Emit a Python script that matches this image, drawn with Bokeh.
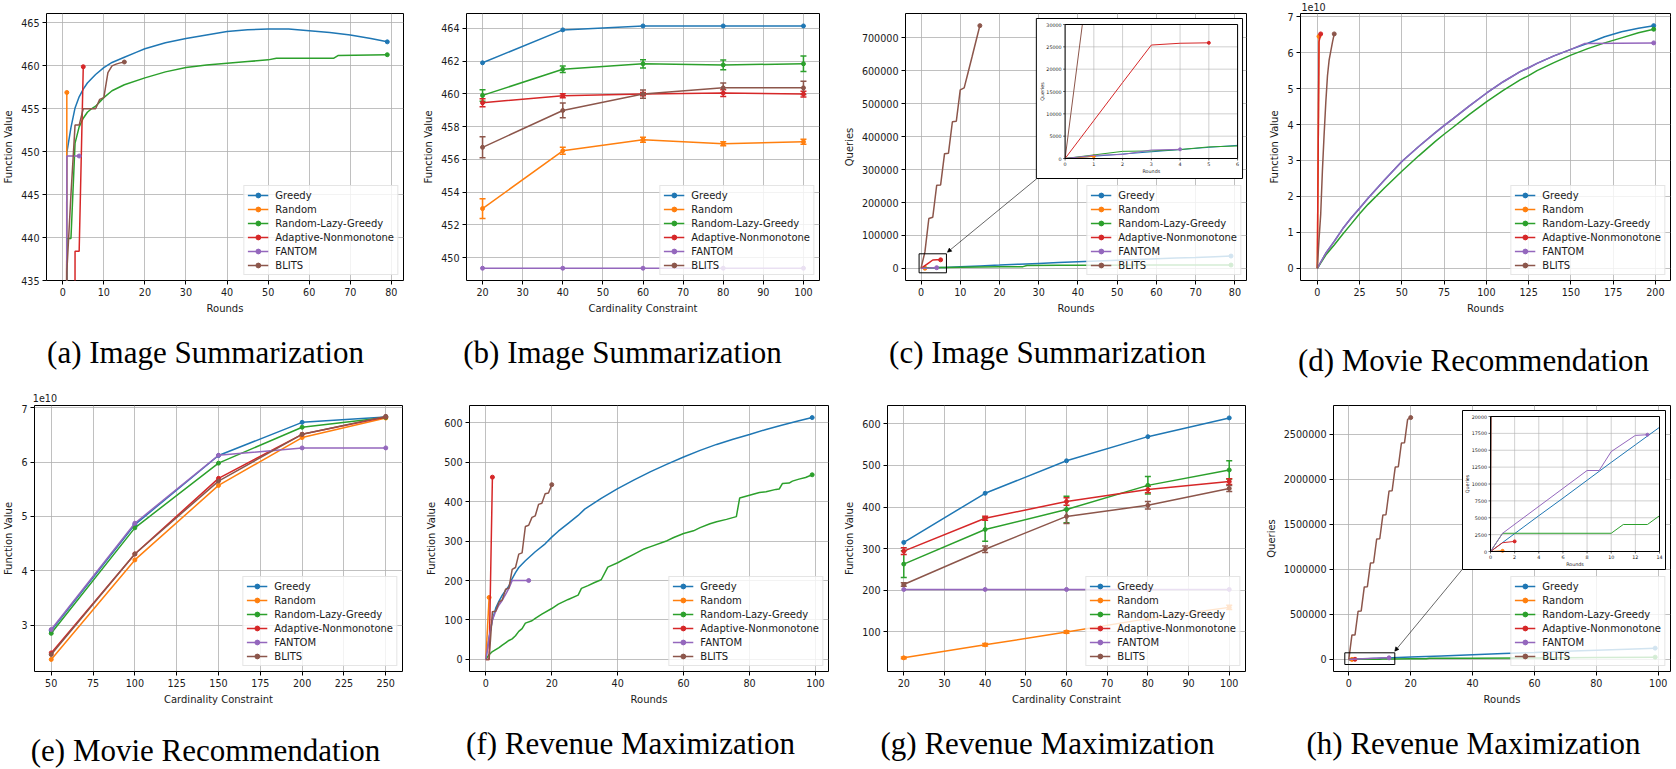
import math
from bokeh.plotting import figure
from bokeh.models import (Range1d, FixedTicker, Legend, LegendItem, Whisker,
                          TeeHead, ColumnDataSource, Arrow, NormalHead, BasicTickFormatter)
from bokeh.layouts import row, column
from bokeh.embed import file_html
from bokeh.resources import INLINE
from bokeh.core.properties import value

NAMES = ["Greedy", "Random", "Random-Lazy-Greedy", "Adaptive-Nonmonotone", "FANTOM", "BLITS"]
COLORS = ["#1f77b4", "#ff7f0e", "#2ca02c", "#d62728", "#9467bd", "#8c564b"]

# ---------------- (a) Image Summarization: value vs rounds ----------------
A_X_GREEDY = [0, 1, 2, 3, 4, 5, 6, 8, 10, 12, 15, 18, 20, 25, 30, 35, 40, 45, 50, 55, 60, 65, 70, 75, 79]
A_Y_GREEDY = [0, 449.9, 452.8, 455.1, 456.4, 457.3, 458.0, 459.0, 459.8, 460.4, 461.0, 461.6, 462.0, 462.7,
              463.2, 463.6, 464.0, 464.2, 464.3, 464.3, 464.1, 463.9, 463.6, 463.2, 462.8]
A_X_RANDOM = [0, 1]
A_Y_RANDOM = [0, 456.9]
A_X_RLG = [0, 1, 2, 3, 4, 5, 6, 7, 8, 10, 12, 15, 20, 25, 30, 35, 40, 45, 50, 52, 66, 67, 79]
A_Y_RLG = [0, 439.9, 439.9, 451.0, 452.9, 453.9, 454.6, 455.0, 455.3, 456.3, 457.1, 457.8, 458.6, 459.3,
           459.8, 460.1, 460.3, 460.5, 460.7, 460.9, 460.9, 461.2, 461.3]
A_X_ADAPT = [0, 1, 2, 3, 4, 5]
A_Y_ADAPT = [0, 0, 0, 438.4, 438.4, 459.9]
A_X_FANTOM = [0, 1, 2, 3, 4]
A_Y_FANTOM = [0, 449.5, 449.5, 449.5, 449.5]
A_X_BLITS = [0, 1, 2, 3, 4, 5, 6, 7, 8, 9, 10, 11, 12, 13, 14, 15]
A_Y_BLITS = [0, 436, 445, 453.1, 453.1, 455.0, 455.0, 455.0, 455.0, 456.1, 456.3, 459.2, 460.0, 460.2,
             460.35, 460.45]

# ---------------- (b) Image Summarization: value vs cardinality ----------------
B_X = [20, 40, 60, 80, 100]
B_GREEDY = [461.89, 463.9, 464.14, 464.14, 464.14]
B_RANDOM = [452.99, 456.52, 457.19, 456.95, 457.07]
B_RANDOM_ERR = [0.6, 0.22, 0.15, 0.12, 0.15]
B_RLG = [459.9, 461.5, 461.83, 461.76, 461.83]
B_RLG_ERR = [0.35, 0.2, 0.25, 0.3, 0.47]
B_ADAPT = [459.45, 459.88, 459.98, 460.04, 459.98]
B_ADAPT_ERR = [0.25, 0.12, 0.1, 0.2, 0.18]
B_FANTOM = [449.35, 449.35, 449.35, 449.35, 449.35]
B_BLITS = [456.73, 458.98, 459.98, 460.36, 460.36]
B_BLITS_ERR = [0.64, 0.45, 0.25, 0.3, 0.4]

# ---------------- (c) Image Summarization: queries vs rounds ----------------
C_X_GREEDY = [0, 1, 2, 3, 4, 5, 6, 10, 15, 20, 25, 30, 35, 40, 45, 50, 55, 60, 65, 70, 75, 79]
C_Y_GREEDY = [0, 500, 1000, 1500, 2000, 2500, 2950, 5000, 7500, 10000, 12600, 15000, 17500, 20000, 22300,
              24500, 26800, 29000, 31200, 33300, 35500, 37400]
C_X_RANDOM = [0, 1]
C_Y_RANDOM = [0, 500]
C_X_RLG = [0, 1, 2, 3, 4, 5, 6, 10, 15, 20, 26, 27, 35, 45, 60, 79]
C_Y_RLG = [0, 800, 1600, 1700, 2000, 2600, 2800, 3500, 4300, 4800, 5200, 8500, 9200, 9800, 10000, 10100]
C_X_ADAPT = [0, 1, 2, 3, 4, 5]
C_Y_ADAPT = [0, 8500, 17000, 25400, 25800, 25900]
C_X_FANTOM = [0, 1, 2, 3, 4]
C_Y_FANTOM = [0, 700, 900, 1900, 2050]
C_X_BLITS = [0, 1, 2, 3, 4, 5, 6, 7, 8, 9, 10, 11, 12, 13, 14, 15]
C_Y_BLITS = [0, 50000, 151500, 155500, 252500, 253500, 348500, 350000, 445500, 447000, 542400, 548500,
             595000, 642000, 690000, 737400]

# ---------------- (d) Movie Recommendation: value (1e10) vs rounds ----------------
D_X_GREEDY = [0, 5, 10, 15, 20, 25, 30, 40, 50, 60, 70, 75, 80, 90, 100, 110, 120, 125, 130, 140, 150, 160,
              170, 175, 180, 190, 199]
D_Y_GREEDY = [0, 0.42, 0.75, 1.1, 1.4, 1.67, 1.95, 2.47, 2.97, 3.39, 3.78, 3.97, 4.15, 4.52, 4.87, 5.19,
              5.47, 5.58, 5.7, 5.91, 6.09, 6.26, 6.44, 6.51, 6.58, 6.68, 6.75]
D_X_RANDOM = [0, 1]
D_Y_RANDOM = [0, 6.45]
D_X_RLG = [0, 5, 10, 15, 20, 25, 30, 40, 50, 60, 70, 75, 80, 90, 100, 110, 120, 125, 130, 140, 150, 160,
           170, 175, 180, 190, 199]
D_Y_RLG = [0, 0.37, 0.65, 0.95, 1.23, 1.52, 1.78, 2.25, 2.7, 3.13, 3.54, 3.73, 3.91, 4.28, 4.63, 4.95,
           5.24, 5.36, 5.5, 5.72, 5.93, 6.11, 6.27, 6.34, 6.41, 6.55, 6.65]
D_X_ADAPT = [0, 1, 2]
D_Y_ADAPT = [0, 6.3, 6.52]
D_X_FANTOM = [0, 5, 10, 15, 20, 25, 30, 40, 50, 60, 70, 75, 80, 90, 100, 110, 120, 125, 130, 140, 150,
              158, 199]
D_Y_FANTOM = [0, 0.42, 0.75, 1.1, 1.4, 1.67, 1.95, 2.47, 2.97, 3.39, 3.78, 3.97, 4.15, 4.52, 4.87, 5.19,
              5.47, 5.58, 5.7, 5.91, 6.09, 6.25, 6.27]
D_X_BLITS = [0, 1, 2, 3, 4, 5, 6, 7, 8, 9, 10]
D_Y_BLITS = [0, 0.8, 1.5, 2.7, 3.7, 4.6, 5.35, 5.8, 6.05, 6.3, 6.52]

# ---------------- (e) Movie Recommendation: value (1e10) vs cardinality ----------------
E_X = [50, 100, 150, 200, 250]
E_GREEDY = [2.90, 4.85, 6.12, 6.73, 6.83]
E_RANDOM = [2.37, 4.20, 5.57, 6.45, 6.81]
E_RLG = [2.85, 4.79, 5.98, 6.64, 6.82]
E_ADAPT = [2.49, 4.31, 5.70, 6.51, 6.83]
E_FANTOM = [2.92, 4.875, 6.125, 6.26, 6.26]
E_BLITS = [2.46, 4.31, 5.65, 6.51, 6.84]

# ---------------- (f) Revenue Maximization: value vs rounds ----------------
F_X_GREEDY = [0, 1, 2, 3, 4, 5, 6, 7, 8, 9, 10, 12, 15, 18, 20, 22, 25, 28, 30, 35, 40, 45, 50, 55, 60, 65,
              70, 75, 80, 85, 90, 95, 99]
F_Y_GREEDY = [0, 55, 100, 130, 148, 163, 175, 186, 205, 220, 233, 250, 273, 293, 310, 325, 345, 365, 381,
              408, 433, 455, 476, 495, 513, 530, 545, 558, 570, 583, 594, 605, 613]
F_X_RANDOM = [0, 1]
F_Y_RANDOM = [0, 157]
F_X_RLG = [0, 1, 2, 3, 4, 5, 6, 7, 8, 9, 10, 11, 12, 14, 15, 17, 20, 22, 25, 28, 29, 31, 33, 35, 37, 40, 42,
           45, 48, 50, 55, 57, 60, 63, 65, 68, 70, 73, 76, 77, 80, 83, 85, 88, 89, 90, 92, 93, 95, 97, 99]
F_Y_RLG = [0, 12, 20, 25, 30, 36, 42, 48, 52, 60, 71, 78, 92, 98, 104, 115, 129, 140, 152, 163, 180, 187,
           195, 202, 234, 245, 254, 267, 280, 286, 301, 309, 319, 326, 334, 344, 349, 355, 362, 409, 416,
           423, 425, 431, 432, 446, 447, 452, 457, 461, 468]
F_X_ADAPT = [0, 1, 2]
F_Y_ADAPT = [0, 0, 462]
F_X_FANTOM = [0, 1, 2, 3, 4, 5, 6, 7, 8, 9, 10, 11, 12, 13]
F_Y_FANTOM = [0, 55, 100, 122, 138, 150, 165, 180, 200, 200, 200, 200, 200, 200]
F_X_BLITS = [0, 1, 2, 3, 4, 5, 6, 7, 8, 9, 10, 11, 12, 13, 14, 15, 16, 17, 18, 19, 20]
F_Y_BLITS = [0, 0, 121, 122, 145, 151, 178, 181, 228, 233, 267, 270, 337, 340, 360, 364, 393, 396, 420,
             422, 443]

# ---------------- (g) Revenue Maximization: value vs cardinality ----------------
G_X = [20, 40, 60, 80, 100]
G_GREEDY = [315, 433, 511, 569, 614]
G_RANDOM = [37.8, 69, 100, 132, 159]
G_RANDOM_ERR = [2, 3, 3, 4, 5]
G_RLG = [263, 346, 394, 452, 489]
G_RLG_ERR = [32, 28, 32, 21, 22]
G_ADAPT = [294, 373, 413, 442, 461]
G_ADAPT_ERR = [8, 5, 9, 8, 7]
G_FANTOM = [202, 202, 202, 202, 202]
G_BLITS = [214, 298.6, 377.5, 404, 444.5]
G_BLITS_ERR = [4, 8, 17, 9, 7]

# ---------------- (h) Revenue Maximization: queries vs rounds ----------------
H_X_GREEDY = [0, 2, 4, 6, 8, 10, 12, 14, 20, 30, 40, 50, 60, 70, 80, 90, 99]
H_Y_GREEDY = [0, 2650, 5300, 7900, 10550, 13200, 15800, 18400, 26000, 39000, 52000, 65000, 77000, 90000,
              102000, 114000, 125000]
H_X_RANDOM = [0, 1]
H_Y_RANDOM = [0, 100]
H_X_RLG = [0, 1, 10, 11, 13, 14, 20, 25, 26, 40, 60, 80, 99]
H_Y_RLG = [0, 2700, 2700, 4000, 4000, 5300, 6500, 7000, 12000, 14000, 17000, 21000, 25000]
H_X_ADAPT = [0, 1, 2]
H_Y_ADAPT = [0, 1300, 1500]
H_X_FANTOM = [0, 1, 8, 9, 10, 12, 13]
H_Y_FANTOM = [0, 2700, 12000, 12000, 14800, 17200, 17300]
H_X_BLITS = [0, 1, 2, 3, 4, 5, 6, 7, 8, 9, 10, 11, 12, 13, 14, 15, 16, 17, 18, 19, 20]
H_Y_BLITS = [0, 270000, 272000, 535000, 538000, 805000, 808000, 1070000, 1073000, 1337000, 1340000,
             1603000, 1606000, 1870000, 1873000, 2136000, 2140000, 2403000, 2406000, 2666000, 2685000]

# ---------------- tick values ----------------
TICKS_ROUNDS_80 = [0, 10, 20, 30, 40, 50, 60, 70, 80]
TICKS_ROUNDS_100 = [0, 20, 40, 60, 80, 100]
TICKS_ROUNDS_200 = [0, 25, 50, 75, 100, 125, 150, 175, 200]
TICKS_CARD_100 = [20, 30, 40, 50, 60, 70, 80, 90, 100]
TICKS_CARD_250 = [50, 75, 100, 125, 150, 175, 200, 225, 250]
INSET_C_XTICKS = [0, 1, 2, 3, 4, 5, 6]
INSET_C_YTICKS = [0, 5000, 10000, 15000, 20000, 25000, 30000]
INSET_H_XTICKS = [0, 2, 4, 6, 8, 10, 12, 14]
INSET_H_YTICKS = [0, 2500, 5000, 7500, 10000, 12500, 15000, 17500, 20000]

CAPTIONS = ["(a) Image Summarization", "(b) Image Summarization", "(c) Image Summarization",
            "(d) Movie Recommendation", "(e) Movie Recommendation", "(f) Revenue Maximization",
            "(g) Revenue Maximization", "(h) Revenue Maximization"]

# ---------------- layout (pixel positions of the page) ----------------
COL_EDGES = [0, 420, 840, 1256, 1672]
ROW1 = (12, 327)
ROW2 = (404, 722)
BOTTOM = 768
W_TOTAL = COL_EDGES[-1]
FONT = "DejaVu Sans"
SERIF = "Liberation Serif"
TXT = "#1a1a1a"


def make_panel(col, rows, frame, xr, yr, xticks, yticks, xlabel, ylabel, plain_fmt=False):
    L, R = COL_EDGES[col], COL_EDGES[col + 1]
    T, B = rows
    fl, fr, ft, fb = frame
    p = figure(width=R - L, height=B - T, x_range=Range1d(*xr), y_range=Range1d(*yr),
               output_backend="svg", toolbar_location=None, title=None,
               min_border_left=fl - L, min_border_right=R - fr,
               min_border_top=ft - T, min_border_bottom=B - fb)
    p.xaxis.ticker = FixedTicker(ticks=xticks)
    p.yaxis.ticker = FixedTicker(ticks=yticks)
    if plain_fmt:
        p.yaxis.formatter = BasicTickFormatter(use_scientific=False)
    p.xaxis.axis_label = xlabel
    p.yaxis.axis_label = ylabel
    for ax in (p.xaxis[0], p.yaxis[0]):
        ax.axis_line_color = None
        ax.major_tick_line_color = "black"
        ax.major_tick_line_width = 1
        ax.major_tick_out = 4
        ax.major_tick_in = 0
        ax.minor_tick_line_color = None
        ax.major_label_text_font = FONT
        ax.major_label_text_font_size = "9.6px"
        ax.major_label_text_color = TXT
        ax.major_label_standoff = 3
        ax.axis_label_text_font = FONT
        ax.axis_label_text_font_size = "10px"
        ax.axis_label_text_font_style = "normal"
        ax.axis_label_text_color = TXT
        ax.axis_label_standoff = 4
    p.grid.grid_line_color = "#b0b0b0"
    p.grid.grid_line_width = 0.8
    p.outline_line_color = "black"
    p.outline_line_width = 1
    p.outline_line_alpha = 1
    p.background_fill_color = "white"
    p.border_fill_color = "white"
    return dict(p=p, fl=fl, fr=fr, ft=ft, fb=fb, xr=xr, yr=yr)


def make_strip(top, bot, texts):
    H = bot - top
    s = figure(width=W_TOTAL, height=H, x_range=Range1d(0, W_TOTAL), y_range=Range1d(H, 0),
               output_backend="svg", toolbar_location=None, title=None,
               min_border=0, min_border_left=0, min_border_right=0, min_border_top=0,
               min_border_bottom=0, x_axis_type=None, y_axis_type=None)
    s.outline_line_color = None
    s.background_fill_color = "white"
    s.border_fill_color = "white"
    for txt, x, base, align, font, size in texts:
        mid = base - 0.34 * size - top
        s.text(x=[x], y=[mid], text=[txt], text_align=align, text_baseline="middle",
               text_font=value(font), text_font_size=value(f"{size}px"),
               text_color="black" if font == SERIF else TXT)
    return s


def px2data(spec, px, py):
    xs, xe = spec["xr"]; ys, ye = spec["yr"]
    dx = xs + (px - spec["fl"]) / (spec["fr"] - spec["fl"]) * (xe - xs)
    dy = ys + (spec["fb"] - py) / (spec["fb"] - spec["ft"]) * (ye - ys)
    return dx, dy


def add_series(p, xs, ys, color, name, mark_all, err=None):
    line = p.line(xs, ys, line_color=color, line_width=1.5)
    if mark_all:
        mk = p.scatter(xs, ys, marker="circle", size=4, fill_color=color, line_color=color)
    else:
        mk = p.scatter([xs[-1]], [ys[-1]], marker="circle", size=4, fill_color=color, line_color=color)
    rends = [line]
    if err is not None:
        src = ColumnDataSource(dict(base=xs, lower=[y - e for y, e in zip(ys, err)],
                                    upper=[y + e for y, e in zip(ys, err)]))
        w = Whisker(source=src, base="base", lower="lower", upper="upper", dimension="height",
                    line_color=color, line_width=1.5,
                    upper_head=TeeHead(size=6, line_color=color, line_width=1.5),
                    lower_head=TeeHead(size=6, line_color=color, line_width=1.5))
        p.add_layout(w)
        proxy = p.scatter(x=[], y=[], marker="dash", angle=math.pi / 2, size=10, line_color=color,
                          line_width=1.5)
        rends.append(proxy)
    rends.append(mk)
    return LegendItem(label=name, renderers=rends)


def add_legend(p, items):
    leg = Legend(items=items, location="bottom_right", margin=5, padding=3, spacing=2,
                 glyph_width=21, glyph_height=12, label_height=12, label_standoff=7,
                 label_text_font=FONT, label_text_font_size="10px", label_text_color=TXT,
                 border_line_color="#cccccc", border_line_width=1,
                 background_fill_color="white", background_fill_alpha=0.8)
    p.add_layout(leg)


def clip_seg(xa, ya, xb, yb, xmin, xmax, ymin, ymax):
    dx = xb - xa; dy = yb - ya
    t0, t1 = 0.0, 1.0
    for pp, q in ((-dx, xa - xmin), (dx, xmax - xa), (-dy, ya - ymin), (dy, ymax - ya)):
        if pp == 0:
            if q < 0:
                return None
        else:
            t = q / pp
            if pp < 0:
                if t > t1:
                    return None
                t0 = max(t0, t)
            else:
                if t < t0:
                    return None
                t1 = min(t1, t)
    return xa + t0 * dx, ya + t0 * dy, xa + t1 * dx, ya + t1 * dy


def add_inset(spec, outer, frame, xr, yr, xticks, yticks, series, small_box, arrow_from, arrow_to):
    p = spec["p"]
    ox0, oy0 = px2data(spec, outer[0], outer[3])
    ox1, oy1 = px2data(spec, outer[1], outer[2])
    p.quad(left=[ox0], right=[ox1], bottom=[oy0], top=[oy1], fill_color="white",
           line_color="black", line_width=1)
    fx0, fy0 = px2data(spec, frame[0], frame[3])
    fx1, fy1 = px2data(spec, frame[1], frame[2])
    sub = p.subplot(x_source=Range1d(*xr), y_source=Range1d(*yr),
                    x_target=Range1d(fx0, fx1), y_target=Range1d(fy0, fy1))
    nx, ny = len(xticks), len(yticks)
    sub.segment(x0=xticks, y0=[yr[0]] * nx, x1=xticks, y1=[yr[1]] * nx, line_color="#b0b0b0",
                line_width=0.6)
    sub.segment(x0=[xr[0]] * ny, y0=yticks, x1=[xr[1]] * ny, y1=yticks, line_color="#b0b0b0",
                line_width=0.6)
    for xs, ys, color in series:
        segs = []
        for i in range(len(xs) - 1):
            c = clip_seg(xs[i], ys[i], xs[i + 1], ys[i + 1], xr[0], xr[1], yr[0], yr[1])
            if c is not None:
                segs.append(c)
        if segs:
            sub.segment(x0=[s[0] for s in segs], y0=[s[1] for s in segs], x1=[s[2] for s in segs],
                        y1=[s[3] for s in segs], line_color=color, line_width=1)
        if xr[0] <= xs[-1] <= xr[1] and yr[0] <= ys[-1] <= yr[1]:
            sub.scatter([xs[-1]], [ys[-1]], marker="circle", size=3, fill_color=color, line_color=color)
    sub.quad(left=[xr[0]], right=[xr[1]], bottom=[yr[0]], top=[yr[1]], fill_color=None,
             line_color="black", line_width=1)
    wpx = frame[1] - frame[0]; hpx = frame[3] - frame[2]
    tx = 2 * (xr[1] - xr[0]) / wpx; ty = 2 * (yr[1] - yr[0]) / hpx
    sub.segment(x0=xticks, y0=[yr[0]] * nx, x1=xticks, y1=[yr[0] - ty] * nx, line_color="black",
                line_width=0.6)
    sub.segment(x0=[xr[0]] * ny, y0=yticks, x1=[xr[0] - tx] * ny, y1=yticks, line_color="black",
                line_width=0.6)
    fs = value("4.8px")
    sub.text(x=xticks, y=[yr[0]] * nx, text=[str(t) for t in xticks], y_offset=3, text_align="center",
             text_baseline="top", text_font=value(FONT), text_font_size=fs, text_color=TXT)
    sub.text(x=[xr[0]] * ny, y=yticks, text=[str(t) for t in yticks], x_offset=-3.5, text_align="right",
             text_baseline="middle", text_font=value(FONT), text_font_size=fs, text_color=TXT)
    sub.text(x=[(xr[0] + xr[1]) / 2], y=[yr[0]], text=["Rounds"], y_offset=10, text_align="center",
             text_baseline="top", text_font=value(FONT), text_font_size=fs, text_color=TXT)
    sub.text(x=[xr[0]], y=[(yr[0] + yr[1]) / 2], text=["Queries"], angle=math.pi / 2, x_offset=-23,
             text_align="center", text_baseline="middle", text_font=value(FONT), text_font_size=fs,
             text_color=TXT)
    bx0, by0 = px2data(spec, small_box[0], small_box[3])
    bx1, by1 = px2data(spec, small_box[1], small_box[2])
    p.quad(left=[bx0], right=[bx1], bottom=[by0], top=[by1], fill_color=None, line_color="black",
           line_width=1)
    ax0, ay0 = px2data(spec, *arrow_from)
    ax1, ay1 = px2data(spec, *arrow_to)
    p.add_layout(Arrow(x_start=ax0, y_start=ay0, x_end=ax1, y_end=ay1, line_color="black",
                       line_width=0.6,
                       end=NormalHead(size=4, fill_color="black", line_color="black", line_width=0.6)))


# ---------------- panels ----------------
sa = make_panel(0, ROW1, (44, 403, 13, 281), (-3.95, 82.95), (435, 466.1), TICKS_ROUNDS_80,
                [435, 440, 445, 450, 455, 460, 465], "Rounds", "Function Value")
pa = sa["p"]
data_a = [(A_X_GREEDY, A_Y_GREEDY), (A_X_RANDOM, A_Y_RANDOM), (A_X_RLG, A_Y_RLG),
          (A_X_ADAPT, A_Y_ADAPT), (A_X_FANTOM, A_Y_FANTOM), (A_X_BLITS, A_Y_BLITS)]
add_legend(pa, [add_series(pa, x, y, c, n, False) for (x, y), c, n in zip(data_a, COLORS, NAMES)])

sb = make_panel(1, ROW1, (461, 819, 13, 280), (16, 104), (448.6, 464.9), TICKS_CARD_100,
                [450, 452, 454, 456, 458, 460, 462, 464], "Cardinality Constraint", "Function Value")
pb = sb["p"]
data_b = [(B_GREEDY, None), (B_RANDOM, B_RANDOM_ERR), (B_RLG, B_RLG_ERR), (B_ADAPT, B_ADAPT_ERR),
          (B_FANTOM, None), (B_BLITS, B_BLITS_ERR)]
add_legend(pb, [add_series(pb, B_X, y, c, n, True, e) for (y, e), c, n in zip(data_b, COLORS, NAMES)])

sc = make_panel(2, ROW1, (902, 1246, 13, 280), (-3.95, 82.95), (-36870, 774270), TICKS_ROUNDS_80,
                [0, 100000, 200000, 300000, 400000, 500000, 600000, 700000], "Rounds", "Queries",
                plain_fmt=True)
pc = sc["p"]
data_c = [(C_X_GREEDY, C_Y_GREEDY), (C_X_RANDOM, C_Y_RANDOM), (C_X_RLG, C_Y_RLG),
          (C_X_ADAPT, C_Y_ADAPT), (C_X_FANTOM, C_Y_FANTOM), (C_X_BLITS, C_Y_BLITS)]
items_c = [add_series(pc, x, y, c, n, False) for (x, y), c, n in zip(data_c, COLORS, NAMES)]
add_inset(sc, (1034, 1242, 18, 178), (1063, 1237, 24, 158), (0, 6), (0, 30000),
          INSET_C_XTICKS, INSET_C_YTICKS, [(x, y, c) for (x, y), c in zip(data_c, COLORS)],
          (915.7, 943.3, 253.3, 272.3), (1034.3, 178.3), (944.3, 251.7))
add_legend(pc, items_c)

sd = make_panel(3, ROW1, (1300, 1670, 13, 287), (-9.95, 208.95), (-0.3375, 7.0875), TICKS_ROUNDS_200,
                [0, 1, 2, 3, 4, 5, 6, 7], "Rounds", "Function Value")
pd_ = sd["p"]
data_d = [(D_X_GREEDY, D_Y_GREEDY), (D_X_RANDOM, D_Y_RANDOM), (D_X_RLG, D_Y_RLG),
          (D_X_ADAPT, D_Y_ADAPT), (D_X_FANTOM, D_Y_FANTOM), (D_X_BLITS, D_Y_BLITS)]
add_legend(pd_, [add_series(pd_, x, y, c, n, False) for (x, y), c, n in zip(data_d, COLORS, NAMES)])

se = make_panel(0, ROW2, (32, 402, 405, 679), (40, 260), (2.148, 7.04), TICKS_CARD_250,
                [3, 4, 5, 6, 7], "Cardinality Constraint", "Function Value")
pe = se["p"]
data_e = [E_GREEDY, E_RANDOM, E_RLG, E_ADAPT, E_FANTOM, E_BLITS]
add_legend(pe, [add_series(pe, E_X, y, c, n, True) for y, c, n in zip(data_e, COLORS, NAMES)])

sf = make_panel(1, ROW2, (469, 828, 405, 672), (-4.95, 103.95), (-30.65, 643.65), TICKS_ROUNDS_100,
                [0, 100, 200, 300, 400, 500, 600], "Rounds", "Function Value")
pf = sf["p"]
data_f = [(F_X_GREEDY, F_Y_GREEDY), (F_X_RANDOM, F_Y_RANDOM), (F_X_RLG, F_Y_RLG),
          (F_X_ADAPT, F_Y_ADAPT), (F_X_FANTOM, F_Y_FANTOM), (F_X_BLITS, F_Y_BLITS)]
add_legend(pf, [add_series(pf, x, y, c, n, False) for (x, y), c, n in zip(data_f, COLORS, NAMES)])

sg = make_panel(2, ROW2, (887, 1245, 405, 672), (16, 104), (5.0, 643.8), TICKS_CARD_100,
                [100, 200, 300, 400, 500, 600], "Cardinality Constraint", "Function Value")
pg = sg["p"]
data_g = [(G_GREEDY, None), (G_RANDOM, G_RANDOM_ERR), (G_RLG, G_RLG_ERR), (G_ADAPT, G_ADAPT_ERR),
          (G_FANTOM, None), (G_BLITS, G_BLITS_ERR)]
add_legend(pg, [add_series(pg, G_X, y, c, n, True, e) for (y, e), c, n in zip(data_g, COLORS, NAMES)])

sh = make_panel(3, ROW2, (1333, 1670, 405, 671), (-4.95, 103.95), (-134250, 2819250), TICKS_ROUNDS_100,
                [0, 500000, 1000000, 1500000, 2000000, 2500000], "Rounds", "Queries", plain_fmt=True)
ph = sh["p"]
data_h = [(H_X_GREEDY, H_Y_GREEDY), (H_X_RANDOM, H_Y_RANDOM), (H_X_RLG, H_Y_RLG),
          (H_X_ADAPT, H_Y_ADAPT), (H_X_FANTOM, H_Y_FANTOM), (H_X_BLITS, H_Y_BLITS)]
items_h = [add_series(ph, x, y, c, n, False) for (x, y), c, n in zip(data_h, COLORS, NAMES)]
add_inset(sh, (1462, 1665, 410, 569), (1490, 1659, 416, 551), (0, 14), (0, 20000),
          INSET_H_XTICKS, INSET_H_YTICKS, [(x, y, c) for (x, y), c in zip(data_h, COLORS)],
          (1344.3, 1394.3, 652.3, 664), (1461.7, 569), (1394.3, 650.7))
add_legend(ph, items_h)

# ---------------- text strips (offset labels and captions) ----------------
CAP = 31
header = make_strip(0, ROW1[0], [("1e10", 1301, 9.3, "left", FONT, 9.6)])
cap1 = make_strip(ROW1[1], ROW2[0], [
    (CAPTIONS[0], 205, 362.7, "center", SERIF, CAP),
    (CAPTIONS[1], 622, 362.7, "center", SERIF, CAP),
    (CAPTIONS[2], 1047, 362.7, "center", SERIF, CAP),
    (CAPTIONS[3], 1473, 371, "center", SERIF, CAP),
    ("1e10", 32.3, 400.5, "left", FONT, 9.6),
])
cap2 = make_strip(ROW2[1], BOTTOM, [
    (CAPTIONS[4], 205, 760.5, "center", SERIF, CAP),
    (CAPTIONS[5], 630, 754, "center", SERIF, CAP),
    (CAPTIONS[6], 1047, 754, "center", SERIF, CAP),
    (CAPTIONS[7], 1473, 754, "center", SERIF, CAP),
])

layout = column(header,
                row(pa, pb, pc, pd_, spacing=0),
                cap1,
                row(pe, pf, pg, ph, spacing=0),
                cap2, spacing=0)
open("out.html", "w").write(file_html(layout, INLINE))
